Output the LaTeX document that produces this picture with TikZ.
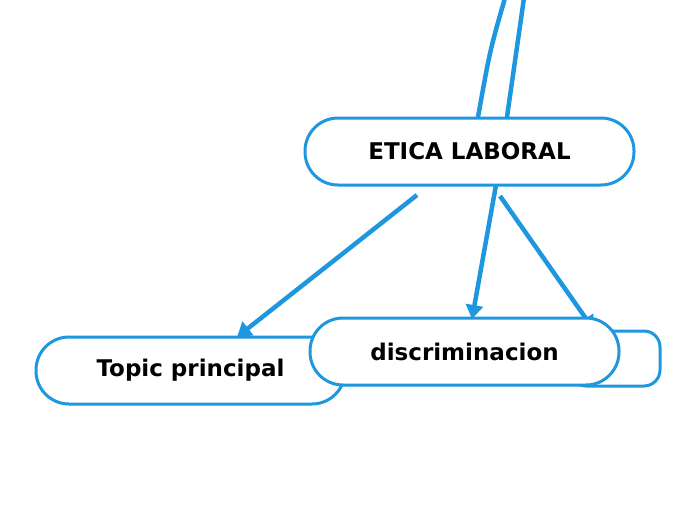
\documentclass[tikz,border=0pt]{standalone}
\usepackage{fontspec}
\setmainfont{DejaVu Sans}
\usetikzlibrary{arrows.meta}
\definecolor{cb}{HTML}{1E97DF}
\begin{document}
\begin{tikzpicture}[x=1pt,y=-1pt,
  box/.style={draw=cb,line width=3pt,fill=white,rounded corners=#1,font=\bfseries\fontsize{23}{26}\selectfont,inner sep=0pt},
  conn/.style={draw=cb,line width=4.5pt},
  arr/.style={conn,-{Triangle[length=14pt,width=17pt]}}]
\useasboundingbox (0,0) rectangle (696,520);
\node[box=16pt,minimum width=90pt,minimum height=55pt] (small) at (615,358.5) {};
\node[box=33pt,minimum width=329pt,minimum height=67pt] (etica) at (469.5,151.5) {ETICA LABORAL};
\coordinate (t1) at (505,-2);
\coordinate (t2) at (524,-2);
\coordinate (e1) at (478,117);
\coordinate (e2) at (507,117);
\draw[conn] (t1) .. controls (490,50) .. (e1);
\draw[conn] (t2) -- (e2);
\coordinate (s1) at (417,195);
\coordinate (s2) at (496,185);
\coordinate (s3) at (500,196);
\coordinate (d1) at (237,337);
\coordinate (d2) at (472,319);
\coordinate (d3) at (594,330);
\draw[arr] (s3) -- (d3);
\draw[arr] (s1) -- (d1);
\node[box=33pt,minimum width=309pt,minimum height=67pt] (topic) at (190.5,370.5) {Topic principal};
\draw[arr] (s2) -- (d2);
\node[box=33pt,minimum width=309pt,minimum height=67pt] (disc) at (464.5,351.5) {discriminacion};
\end{tikzpicture}
\end{document}
